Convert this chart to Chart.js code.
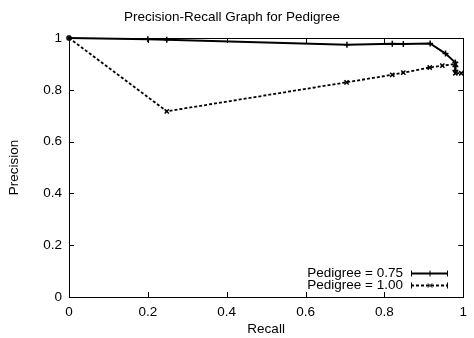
<!DOCTYPE html>
<html>
<head>
<meta charset="utf-8">
<script src="https://cdn.jsdelivr.net/npm/chart.js@4/dist/chart.umd.min.js"></script>
<style>
html,body{margin:0;padding:0;background:#fff;}
canvas{display:block;}
</style>
</head>
<body>
<canvas id="c" width="474" height="338"></canvas>
<script>
const titleText = "Precision-Recall Graph for Pedigree";
const xAxisTitle = "Recall";
const yAxisTitle = "Precision";
const seriesLabels = ["Pedigree = 0.75", "Pedigree = 1.00"];

const recall075    = [0, 0.200, 0.248, 0.705, 0.820, 0.848, 0.916, 0.955, 0.980, 0.980, 0.980];
const precision075 = [1, 0.995, 0.993, 0.974, 0.978, 0.977, 0.979, 0.940, 0.905, 0.890, 0.875];

const recall100    = [0, 0.248, 0.704, 0.820, 0.848, 0.915, 0.947, 0.980, 0.980, 0.995];
const precision100 = [1, 0.717, 0.829, 0.858, 0.866, 0.886, 0.893, 0.900, 0.864, 0.864];

const xTicks = [0, 0.2, 0.4, 0.6, 0.8, 1];
const yTicks = [0, 0.2, 0.4, 0.6, 0.8, 1];

const FONT = "'Liberation Sans', Arial, Helvetica, sans-serif";
const FS = 13.5;

function pts(xs, ys){ return xs.map((x,i)=>({x:x, y:ys[i]})); }

const frame = {
  id: 'frame',
  afterDatasetsDraw(chart){
    const ctx = chart.ctx, a = chart.chartArea;
    const xs = chart.scales.x, ys = chart.scales.y;
    ctx.save();
    ctx.strokeStyle = '#000';
    ctx.lineWidth = 1;
    ctx.strokeRect(Math.round(a.left)+0.5, Math.round(a.top)+0.5, Math.round(a.right-a.left), Math.round(a.bottom-a.top));
    const L = 5;
    ctx.beginPath();
    xTicks.forEach(v=>{
      const p = Math.round(xs.getPixelForValue(v))+0.5;
      ctx.moveTo(p, a.bottom); ctx.lineTo(p, a.bottom-L);
      ctx.moveTo(p, a.top); ctx.lineTo(p, a.top+L);
    });
    yTicks.forEach(v=>{
      const p = Math.round(ys.getPixelForValue(v))+0.5;
      ctx.moveTo(a.left, p); ctx.lineTo(a.left+L, p);
      ctx.moveTo(a.right, p); ctx.lineTo(a.right-L, p);
    });
    ctx.stroke();

    // legend inside plot, bottom right
    ctx.font = FS + 'px ' + FONT;
    ctx.fillStyle = '#000';
    ctx.textAlign = 'right';
    ctx.textBaseline = 'middle';
    const rows = [273.5, 285.5];
    chart.data.datasets.forEach((ds, i)=>{
      const y = rows[i];
      ctx.fillText(ds.label, 403, y);
      ctx.save();
      ctx.lineWidth = ds.borderWidth;
      ctx.setLineDash(ds.borderDash || []);
      ctx.beginPath();
      ctx.moveTo(411, y); ctx.lineTo(448, y);
      ctx.stroke();
      ctx.setLineDash([]);
      ctx.lineWidth = 1;
      ctx.beginPath();
      ctx.moveTo(411.5, y-3); ctx.lineTo(411.5, y+3);
      ctx.moveTo(447.5, y-3); ctx.lineTo(447.5, y+3);
      ctx.stroke();
      Chart.helpers.drawPoint(ctx, {pointStyle: ds.pointStyle, radius: ds.pointRadius, borderWidth: ds.pointBorderWidth, rotation: 0}, 430, y);
      ctx.restore();
    });
    ctx.restore();
  }
};

new Chart(document.getElementById('c'), {
  type: 'scatter',
  data: {
    datasets: [
      {
        label: seriesLabels[0],
        data: pts(recall075, precision075),
        showLine: true,
        borderColor: '#000',
        backgroundColor: '#000',
        borderWidth: 2,
        pointStyle: 'cross',
        pointRadius: 3,
        pointBorderWidth: 1.5,
        clip: false
      },
      {
        label: seriesLabels[1],
        data: pts(recall100, precision100),
        showLine: true,
        borderColor: '#000',
        backgroundColor: '#000',
        borderWidth: 1.8,
        borderDash: [3, 2],
        pointStyle: 'crossRot',
        pointRadius: 3,
        pointBorderWidth: 1.5,
        clip: false
      }
    ]
  },
  options: {
    responsive: false,
    animation: false,
    devicePixelRatio: 1,
    layout: { padding: { left: 0, right: 10, top: 0, bottom: 0 } },
    plugins: {
      legend: { display: false },
      tooltip: { enabled: false },
      title: {
        display: true,
        text: titleText,
        color: '#000',
        font: { family: FONT, size: FS, weight: 'normal' },
        padding: { top: 9, bottom: 12.8 }
      }
    },
    scales: {
      x: {
        type: 'linear',
        min: 0, max: 1,
        afterFit(s){ s.height = 41; },
        afterBuildTicks(s){ s.ticks = xTicks.map(v=>({value:v})); },
        grid: { display: false, drawTicks: false },
        border: { display: false },
        ticks: { color: '#000', padding: 7, maxRotation: 0, font: { family: FONT, size: FS },
          callback: v => String(+v.toFixed(1)) },
        title: { display: true, text: xAxisTitle, color: '#000', font: { family: FONT, size: FS }, padding: { top: 0, bottom: 1 } }
      },
      y: {
        type: 'linear',
        min: 0, max: 1,
        afterFit(s){ s.width = 69; },
        afterBuildTicks(s){ s.ticks = yTicks.map(v=>({value:v})); },
        grid: { display: false, drawTicks: false },
        border: { display: false },
        ticks: { color: '#000', padding: 7, font: { family: FONT, size: FS },
          callback: v => String(+v.toFixed(1)) },
        title: { display: true, text: yAxisTitle, color: '#000', font: { family: FONT, size: FS }, padding: { top: 6, bottom: 0 } }
      }
    }
  },
  plugins: [frame]
});
</script>
</body>
</html>
